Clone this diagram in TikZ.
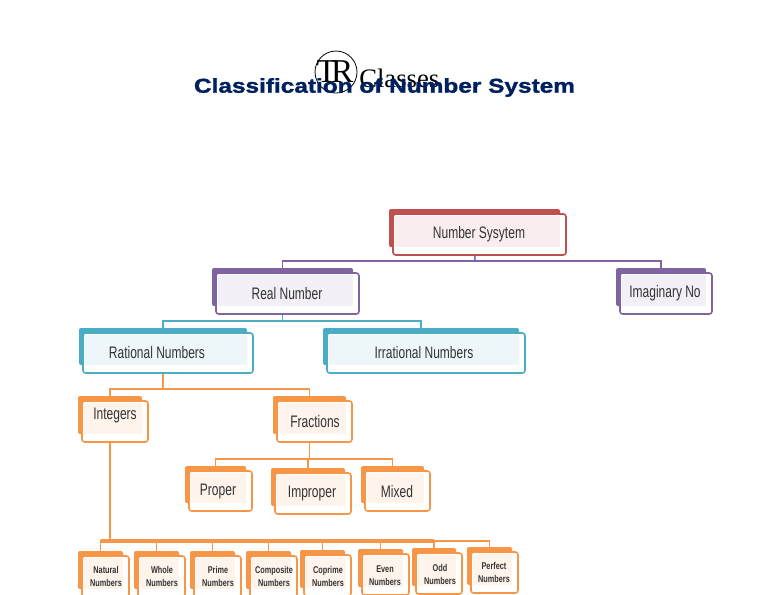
\documentclass[tikz,border=0pt]{standalone}
\usepackage{fontspec}
\setmainfont[FakeStretch=0.72,BoldFeatures={FakeStretch=0.74}]{Liberation Sans}
\newfontfamily\titlefont[FakeStretch=1.22,FakeBold=1.5]{Liberation Sans Bold}
\newfontfamily\logofont{Liberation Serif}
\usetikzlibrary{backgrounds}
\definecolor{redline}{HTML}{C0504D}
\definecolor{purpleline}{HTML}{8064A2}
\definecolor{tealline}{HTML}{4BACC6}
\definecolor{orangeline}{HTML}{F79646}
\definecolor{titleblue}{HTML}{002060}
\definecolor{textgrey}{HTML}{333333}
\newcommand{\cardfont}{\fontsize{12.5}{14}\selectfont}
\newcommand{\leaffont}{\fontsize{7.4}{9.75}\bfseries\selectfont}
% back block, white front block, tinted inner block, then the label
% #1 name, #2 colour, #3 left, #4 top, #5 width, #6 height, #7 text x, #8 text y, #9 text
\newcommand{\cardbox}[9]{
    \node[draw=none,fill=#2,rounded corners=1.5pt,inner sep=0pt,outer sep=0pt,anchor=north west,
        minimum width=#5*0.75pt,minimum height=#6*0.75pt] (#1) at (#3,-#4) {};
    \node[draw=#2,fill=white,line width=1.2pt,rounded corners=2pt,inner sep=0pt,outer sep=0pt,anchor=north west,
        minimum width=#5*0.75pt+1.5pt,minimum height=#6*0.75pt+2.25pt] (#1 front) at (#3+4,-#4-5) {};
    \node[fill=#2!10,inner sep=0pt,outer sep=0pt,anchor=north west,
        minimum width=#5*0.75pt-4.1pt,minimum height=#6*0.75pt-4.9pt] (#1 tint) at (#3+5.5,-#4-6.5) {};
    \node[text=textgrey,font=\labelfont,align=center,inner sep=0pt] (#1 text) at (#7,-#8-1.5) {#9};
}
\begin{document}
\begin{tikzpicture}[x=0.75pt,y=0.75pt]
    \useasboundingbox (0,0) rectangle (768,-594);
    \clip (0,0) rectangle (768,-594);

    % Logo
    \node[draw=black,circle,line width=0.6pt,minimum size=31.5pt,inner sep=0pt] (logoring) at (336,-72) {};
    \node[inner sep=0pt] (logotr) at (335,-72) {\logofont\fontsize{25}{25}\selectfont T\kern-4.5pt R};
    \node[inner sep=0pt,anchor=west] (logoname) at (359,-78) {\logofont\fontsize{20}{20}\selectfont Classes};

    % Title
    \node[text=titleblue,inner sep=0pt] (title) at (384.5,-87.5) {\titlefont\fontsize{15}{15}\selectfont Classification of Number System};

    \let\labelfont\cardfont
    % Top levels
    \cardbox{number}{redline}{389}{209}{171}{38}{479}{233}{Number Sysytem}
    \cardbox{real}{purpleline}{212}{268}{141}{38}{287}{292}{Real Number}
    \cardbox{imag}{purpleline}{616}{268}{90}{38}{665}{292}{Imaginary No}
    \cardbox{rational}{tealline}{79}{328}{168}{37}{157}{351}{Rational Numbers}
    \cardbox{irrational}{tealline}{323}{328}{196}{37}{424}{351}{Irrational Numbers}

    % Integers and fractions
    \cardbox{integers}{orangeline}{78}{396}{64}{38}{115}{414}{Integers}
    \cardbox{fractions}{orangeline}{273}{396}{73}{38}{315}{420}{Fractions}
    \cardbox{proper}{orangeline}{185}{466}{61}{37}{218}{490}{Proper}
    \cardbox{improper}{orangeline}{271}{468}{74}{38}{312}{492}{Improper}
    \cardbox{mixed}{orangeline}{361}{466}{63}{37}{397}{490}{Mixed}

    \let\labelfont\leaffont
    % Bottom row
    \cardbox{natural}{orangeline}{78}{551}{45}{38}{106}{575}{Natural\\Numbers}
    \cardbox{whole}{orangeline}{134}{551}{45}{38}{162}{575}{Whole\\Numbers}
    \cardbox{prime}{orangeline}{190}{551}{45}{38}{218}{575}{Prime\\Numbers}
    \cardbox{composite}{orangeline}{246}{551}{45}{38}{274}{575}{Composite\\Numbers}
    \cardbox{coprime}{orangeline}{300}{550}{45}{38}{328}{575}{Coprime\\Numbers}
    \cardbox{even}{orangeline}{358}{549}{45}{38}{385}{574}{Even\\Numbers}
    \cardbox{odd}{orangeline}{412}{548}{44}{38}{440}{573}{Odd\\Numbers}
    \cardbox{perfect}{orangeline}{467}{547}{45}{38}{494}{571}{Perfect\\Numbers}

    % Bars between the levels
    \coordinate (numberbar) at (475,-261);
    \coordinate (realbar) at (282.5,-321);
    \coordinate (rationalbar) at (163,-389);
    \coordinate (fractionsbar) at (309.5,-459);
    \coordinate (integersbar) at (110,-541);

    % Connectors
    \begin{scope}[on background layer]
        \draw[purpleline,line width=1.2pt] (numberbar) -| (real.north);
        \draw[purpleline,line width=1.2pt] (numberbar) -| (imag.north);
        \draw[purpleline,line width=1.2pt] (number.south) -- (numberbar);
        \draw[tealline,line width=1.2pt] (real.south) -- (realbar);
        \draw[tealline,line width=1.2pt] (realbar) -| (rational.north);
        \draw[tealline,line width=1.2pt] (realbar) -| (irrational.north);
        \draw[orangeline,line width=1.2pt] (rational.south) -- (rationalbar);
        \draw[orangeline,line width=1.2pt] (rationalbar) -| (integers.north);
        \draw[orangeline,line width=1.2pt] (rationalbar) -| (fractions.north);
        \draw[orangeline,line width=1.2pt] (fractions.south) -- (fractionsbar);
        \draw[orangeline,line width=1.2pt] (fractionsbar) -| (proper.north);
        \draw[orangeline,line width=1.2pt] (fractionsbar) -| (improper.north);
        \draw[orangeline,line width=1.2pt] (fractionsbar) -| (mixed.north);
        \draw[orangeline,line width=2.2pt] (integers.south) -- (integersbar);
        \foreach \leaf in {natural,whole,prime,composite,coprime,even,odd,perfect} {
            \draw[orangeline,line width=1.2pt] (integersbar) -| (\leaf.north);
        }
        \draw[orangeline,line width=3pt] (natural.north |- integersbar) -- (odd.north |- integersbar);
    \end{scope}
\end{tikzpicture}
\end{document}
